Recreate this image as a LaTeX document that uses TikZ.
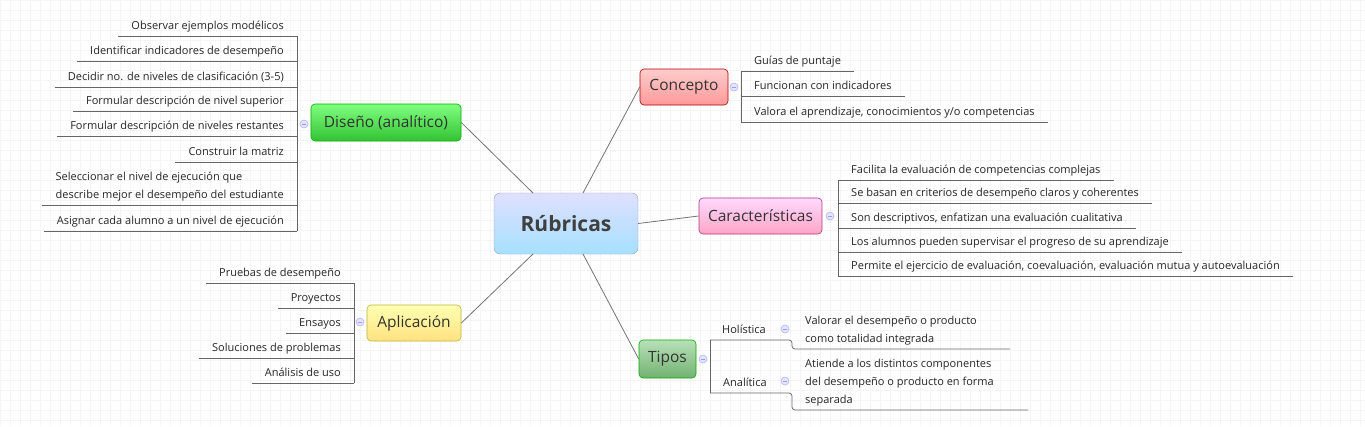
\documentclass[tikz,border=0pt]{standalone}
\usepackage{fontspec}
\setmainfont{Open Sans}
\begin{document}
\begin{tikzpicture}[x=1pt,y=-1pt,
  leafb/.style={inner xsep=13pt,inner ysep=3pt,font=\fontsize{11}{18}\selectfont,text=black!85},
  leaf/.style={leafb,text height=9pt,text depth=3pt},
  mleaf/.style={leafb,align=left,inner ysep=4pt},
  ul/.style={draw=black!60,line width=0.7pt},
  br/.style={draw=black!60,line width=0.7pt,rounded corners=3pt},
  conn/.style={draw=black!55,line width=0.8pt},
  main/.style={draw=#1!70!black,rounded corners=4pt,line width=0.6pt,minimum height=36pt,inner xsep=5pt,font=\fontsize{15.5}{20}\selectfont,text=black!80},
  coll/.style={circle,draw=blue!30,fill=blue!10,minimum size=8pt,inner sep=0pt,line width=0.6pt,path picture={\draw[blue!40,line width=0.7pt](path picture bounding box.west)++(2pt,0)--++(4pt,0);}}]
\useasboundingbox (0,0) rectangle (1365,426);
\fill[white!96!blue!2] (0,0) rectangle (1365,426);
\foreach \i in {0,10,...,1360}{\draw[black!4,line width=0.3pt] (\i,0)--(\i,426);}
\foreach \j in {0,10,...,420}{\draw[black!4,line width=0.3pt] (0,\j)--(1365,\j);}
% central
\node[draw=blue!45!black!40,rounded corners=6pt,top color=blue!12,bottom color=blue!35!cyan!35,minimum width=144pt,minimum height=61pt,font=\fontsize{21}{26}\selectfont\bfseries,text=black!75] (c) at (566,223.5) {Rúbricas};
% main topics
\node[main=red,top color=red!20,bottom color=red!40,minimum width=88pt] (con) at (684,87) {Concepto};
\node[main=magenta,top color=magenta!15,bottom color=magenta!35!red!35,minimum width=123pt] (car) at (760.5,216) {Características};
\node[main=green,top color=green!40!gray!40,bottom color=green!45!black!55,minimum width=57pt,minimum height=38pt] (tip) at (667.5,359) {Tipos};
\node[main=green,top color=green!50,bottom color=green!70!black!80,minimum width=150pt,minimum height=37pt] (dis) at (386,122.5) {Diseño (analítico)};
\node[main=yellow,top color=yellow!30,bottom color=yellow!55!orange!50,minimum width=94pt] (apl) at (414,323) {Aplicación};
\draw[conn] (583,193) -- (con.west);
\draw[conn] (c.east) -- (car.west);
\draw[conn] (583,254) -- (tip.west);
\draw[conn] (533,193) -- (dis.east);
\draw[conn] (533,254) -- (apl.east);
% Concepto leaves
\node[coll] (k1) at (734,87) {};
\foreach \n/\u/\t in {a/71/Guías de puntaje,b/96/Funcionan con indicadores,d/122/{Valora el aprendizaje, conocimientos y/o competencias}}
 {\node[leaf,anchor=south west] (con\n) at (741,\u) {\t}; \draw[ul] (con\n.south west)--(con\n.south east);}
\draw[br] (cona.south west) -- (cond.south west);
% Caracteristicas
\node[coll] (k2) at (830,216) {};
\foreach \n/\u/\t in {a/180/Facilita la evaluación de competencias complejas,b/203/Se basan en criterios de desempeño claros y coherentes,d/228/{Son descriptivos, enfatizan una evaluación cualitativa},e/252/Los alumnos pueden supervisar el progreso de su aprendizaje,f/276/{Permite el ejercicio de evaluación, coevaluación, evaluación mutua y autoevaluación}}
 {\node[leaf,anchor=south west] (car\n) at (838,\u) {\t}; \draw[ul] (car\n.south west)--(car\n.south east);}
\draw[br] (cara.south west) -- (carf.south west);
% Tipos
\node[coll] (k3) at (703,359) {};
\node[leaf,anchor=south west,inner xsep=0pt] (hol) at (722,340) {Holística};
\node[leaf,anchor=south west,inner xsep=0pt] (ana) at (723,393) {Analítica};
\coordinate (h0) at (710,340); \coordinate (a0) at (710,393);
\draw[br] (h0) -- (a0);
\node[coll] (k4) at (785,329) {};
\node[coll] (k5) at (785,381) {};
\node[mleaf,anchor=south west] (hl) at (792,349) {Valorar el desempeño o producto\\como totalidad integrada};
\node[mleaf,anchor=south west] (al) at (792,410) {Atiende a los distintos componentes\\del desempeño o producto en forma\\separada};
\draw[br] (h0) -- (792,340) -- (hl.south west) -- (1010,349);
\draw[br] (a0) -- (792,393) -- (al.south west) -- (1028,410);
% Diseno leaves
\node[coll] (k6) at (304,124) {};
\foreach \n/\u/\t in {a/36/Observar ejemplos modélicos,b/61/Identificar indicadores de desempeño,d/87/Decidir no. de niveles de clasificación (3-5),e/111/Formular descripción de nivel superior,f/136/Formular descripción de niveles restantes,g/162/Construir la matriz}
 {\node[leaf,anchor=south east] (dis\n) at (297,\u) {\t}; \draw[ul] (dis\n.south west)--(dis\n.south east);}
\node[mleaf,anchor=south east] (dish) at (297,205) {Seleccionar el nivel de ejecución que\\describe mejor el desempeño del estudiante};
\draw[ul] (dish.south west)--(dish.south east);
\node[leaf,anchor=south east] (disi) at (297,231) {Asignar cada alumno a un nivel de ejecución};
\draw[ul] (disi.south west)--(disi.south east);
\draw[br] (disa.south east) -- (disi.south east);
% Aplicacion leaves
\node[coll] (k7) at (360,322) {};
\foreach \n/\u/\t in {a/283/Pruebas de desempeño,b/308/Proyectos,d/333/Ensayos,e/358/Soluciones de problemas,f/383/Análisis de uso}
 {\node[leaf,anchor=south east] (apl\n) at (354,\u) {\t}; \draw[ul] (apl\n.south west)--(apl\n.south east);}
\draw[br] (apla.south east) -- (aplf.south east);
\end{tikzpicture}
\end{document}
